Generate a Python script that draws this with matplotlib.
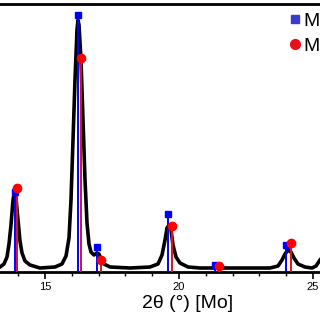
import numpy as np
import matplotlib.pyplot as plt
from matplotlib.lines import Line2D

two_theta = [13.321, 13.470, 13.582, 13.657, 13.731, 13.806, 13.862, 13.918, 13.993,
             14.067, 14.142, 14.254, 14.440, 14.813, 15.373, 15.634, 15.784, 15.896,
             15.970, 16.045, 16.119, 16.194, 16.231, 16.269, 16.343, 16.418, 16.493,
             16.567, 16.642, 16.716, 16.828, 16.940, 17.015, 17.090, 17.201, 17.425,
             18.172, 18.918, 19.216, 19.366, 19.478, 19.552, 19.627, 19.701, 19.776,
             19.888, 20.037, 20.336, 20.784, 21.306, 21.455, 21.604, 22.276, 23.396,
             23.694, 23.843, 23.955, 24.067, 24.179, 24.291, 24.440, 24.701, 24.963,
             25.112, 25.261]
intensity = [5, 8, 15, 28, 47, 72, 80, 74, 52,
             31, 19, 11, 7, 4, 5, 8, 16, 34,
             72, 132, 192, 242, 252, 247, 212, 152, 92,
             49, 28, 20, 17, 19, 18, 13, 8, 5,
             4, 5, 8, 17, 32, 44, 47, 42, 27,
             15, 9, 5, 4, 4, 5, 4, 4, 4,
             6, 12, 18, 22, 20, 14, 8, 5, 4,
             6, 12]

# reference reflections
blue_pos = [13.88, 16.23, 16.94, 19.59, 21.34, 23.99]
blue_int = [80, 257, 25, 58, 7, 27]
red_pos = [13.96, 16.34, 17.09, 19.74, 21.49, 24.18]
red_int = [84, 214, 12, 46, 6, 29]

# only the first letter of each legend entry is inside the picture
legend_labels = ['M', 'M']

plt.rcParams['font.family'] = ['Liberation Sans', 'DejaVu Sans']

fig = plt.figure(figsize=(3.2, 3.2), dpi=100)
ax = fig.add_axes([0.0, 0.15, 1.0, 0.8375])

ax.plot(two_theta, intensity, color='black', lw=2.6, solid_joinstyle='round', zorder=2)

ax.vlines(blue_pos, 0, blue_int, color='#0000ff', lw=1.4, zorder=3)
ax.vlines(red_pos, 0, red_int, color='#e0101a', lw=1.4, zorder=3)
ax.plot(blue_pos, blue_int, ls='none', marker='s', ms=5, color='#0000ff', zorder=4)
ax.plot(red_pos, red_int, ls='none', marker='o', ms=6, color='#ff0000', zorder=4)

ax.set_xlim(13.321, 25.261)
ax.set_ylim(0, 268)
ax.set_xticks([15, 20, 25])
ax.set_xticks(np.arange(14, 26, 1), minor=True)
ax.set_yticks([])
ax.tick_params(axis='x', which='major', direction='out', length=5, width=1.2, labelsize=8, pad=2)
ax.tick_params(axis='x', which='minor', direction='out', length=3, width=1.0)

for side in ['left', 'right']:
    ax.spines[side].set_visible(False)
ax.spines['top'].set_linewidth(2)
ax.spines['bottom'].set_linewidth(2)

ax.set_xlabel('2θ (°) [Mo]', fontsize=14)
ax.xaxis.set_label_coords(0.5875, -0.085)

handles = [Line2D([], [], ls='none', marker='s', ms=5.5, color='#3a3acc'),
           Line2D([], [], ls='none', marker='o', ms=7, color='#e8101a')]
ax.legend(handles, legend_labels, loc='upper left', bbox_to_anchor=(0.872, 0.997),
          frameon=False, fontsize=14, handletextpad=0.05, handlelength=0.8,
          labelspacing=0.35, borderaxespad=0.0)

fig.savefig('out.png', dpi=100)
